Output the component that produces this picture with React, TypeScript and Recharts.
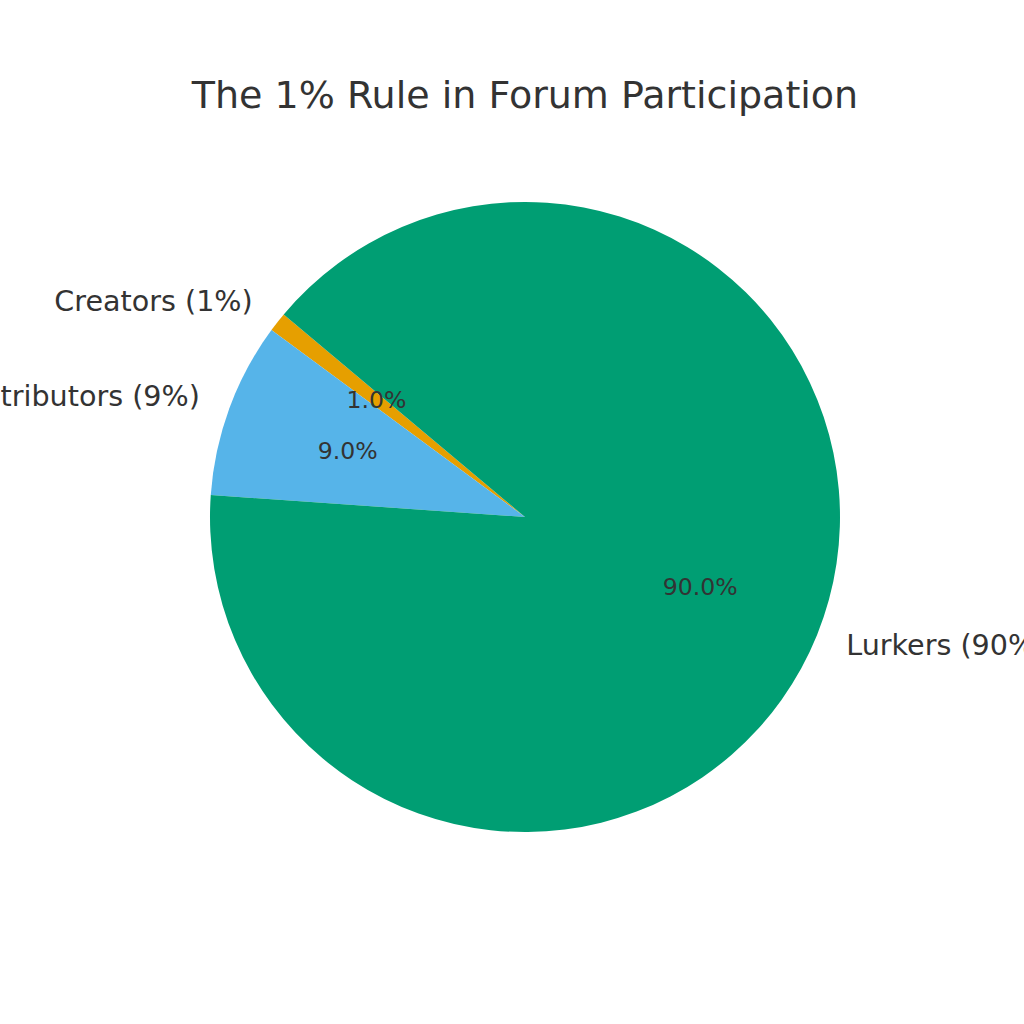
import React from "react";
import { PieChart, Pie, Cell } from "recharts";

const categories = ["Creators (1%)", "Contributors (9%)", "Lurkers (90%)"];
const values = [1, 9, 90];
const colors = ["#E69F00", "#56B4E9", "#009E73"];
const title = "The 1% Rule in Forum Participation";

const data = categories.map((name, i) => ({ name, value: values[i] }));

const RADIAN = Math.PI / 180;
const FONT = "'DejaVu Sans', sans-serif";
const TEXT_COLOR = "#333333";

const renderLabel = (props: any) => {
  const { cx, cy, midAngle, outerRadius, percent, name } = props;
  const cos = Math.cos(-midAngle * RADIAN);
  const sin = Math.sin(-midAngle * RADIAN);
  const ox = cx + outerRadius * 1.1 * cos;
  const oy = cy + outerRadius * 1.1 * sin;
  const ix = cx + outerRadius * 0.6 * cos;
  const iy = cy + outerRadius * 0.6 * sin;
  return (
    <g>
      <text
        x={ox}
        y={oy - 1.5}
        textAnchor={cos < 0 ? "end" : "start"}
        dominantBaseline="central"
        fontFamily={FONT}
        fontSize={28.6}
        fill={TEXT_COLOR}
      >
        {name}
      </text>
      <text
        x={ix}
        y={iy - 0.5}
        textAnchor="middle"
        dominantBaseline="central"
        fontFamily={FONT}
        fontSize={23.6}
        fill={TEXT_COLOR}
      >
        {(percent * 100).toFixed(1) + "%"}
      </text>
    </g>
  );
};

export default function App() {
  return (
    <div style={{ position: "absolute", left: 0, top: 0, width: 1024, height: 1024, background: "#fff", overflow: "hidden" }}>
      <PieChart width={1024} height={1024} margin={{ top: 0, right: 0, bottom: 0, left: 0 }}>
        <Pie
          data={data}
          dataKey="value"
          nameKey="name"
          cx={525}
          cy={517}
          outerRadius={315}
          startAngle={140}
          endAngle={500}
          stroke="none"
          labelLine={false}
          label={renderLabel}
          isAnimationActive={false}
        >
          {data.map((d, i) => (
            <Cell key={d.name} fill={colors[i]} />
          ))}
        </Pie>
      </PieChart>
      <svg width={1024} height={140} style={{ position: "absolute", left: 0, top: 0 }}>
        <text x={525} y={108} textAnchor="middle" fontFamily={FONT} fontSize={38} fill={TEXT_COLOR}>
          {title}
        </text>
      </svg>
    </div>
  );
}
